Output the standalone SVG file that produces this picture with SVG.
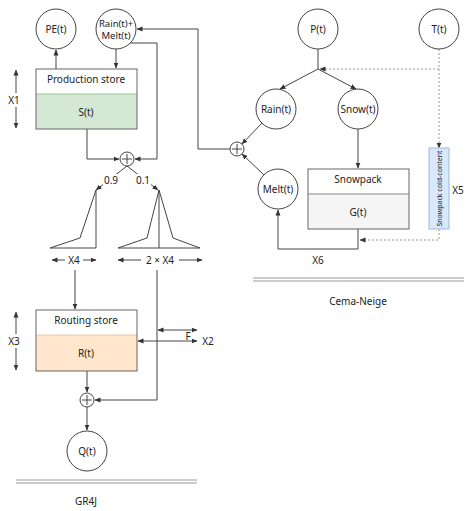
<svg xmlns="http://www.w3.org/2000/svg" width="474" height="511" viewBox="0 0 474 511">
<style>
text{font-family:"Noto Sans","Open Sans",sans-serif;font-size:10px;fill:#222;text-anchor:middle;dominant-baseline:central}
.n{fill:#fff;stroke:#444;stroke-width:1}
.c{fill:none;stroke:#444;stroke-width:1}
.a{marker-end:url(#ah)}
.d{marker-start:url(#ah);marker-end:url(#ah)}
.dot{fill:none;stroke:#999;stroke-width:1;stroke-dasharray:2 2}
.bg{fill:#fff;stroke:none}
.sep{stroke:#999;stroke-width:1.2}
</style>
<defs>
<marker id="ah" markerUnits="userSpaceOnUse" markerWidth="6" markerHeight="6" refX="5.5" refY="3" orient="auto-start-reverse">
<path d="M0,0.5 L6,3 L0,5.5 z" fill="#333"/>
</marker>
</defs>
<rect width="474" height="511" fill="#fff"/>

<g id="connectors">
<path class="c a" d="M56,69 V50"/>
<path class="c a" d="M116,49 V68"/>
<path class="c a" d="M130,43 H157 V159 H135"/>
<path class="c a" d="M87,129 V159 H119"/>
<path class="c a" d="M230,149 H198 V29 H137"/>
<path class="c" d="M318,49 V69"/>
<path class="c a" d="M318,69 L280,89"/>
<path class="c a" d="M318,69 L356,89"/>
<path class="dot a" d="M439,49 V148"/>
<path class="dot a" d="M439,69 H320"/>
<path class="c a" d="M262,123 L242,144"/>
<path class="c a" d="M264,175 L242,154"/>
<path class="c a" d="M358,129 V168"/>
<path class="c a" d="M358,229 V249 H278 V210"/>
<path class="dot a" d="M439,229 V240 H360"/>
<path class="c a" d="M127,166 L96,190"/>
<path class="c a" d="M127,166 L158,190"/>
<rect class="bg" x="103" y="174" width="16" height="12"/>
<rect class="bg" x="135" y="174" width="16" height="12"/>
<text x="111" y="180">0.9</text>
<text x="143" y="180">0.1</text>
<path class="c a" d="M75,270 V309"/>
<path class="c a" d="M157,270 V400 H95"/>
<path class="c a" d="M87,371 V392"/>
<path class="c a" d="M87,407 V430"/>
<path class="c d" d="M158,330 H197"/>
<path class="c d" d="M138,341 H197"/>
</g>

<g id="PE">
<circle class="n" cx="56" cy="29" r="20"/>
<text x="56" y="29">PE(t)</text>
</g>
<g id="RainMelt">
<circle class="n" cx="116" cy="29" r="20"/>
<text x="116" y="23" style="font-size:9.5px">Rain(t)+</text>
<text x="116" y="35.5" style="font-size:9.5px">Melt(t)</text>
</g>
<g id="production-store">
<rect x="36" y="69" width="101" height="60" fill="#fff"/>
<rect x="36" y="94" width="101" height="35" fill="#d5e8d4"/>
<line x1="36" y1="94" x2="137" y2="94" stroke="#9ec29a" stroke-width="1"/>
<rect x="36" y="69" width="101" height="60" fill="none" stroke="#666"/>
<text x="86" y="79">Production store</text>
<text x="86" y="112">S(t)</text>
</g>
<g id="X1">
<path class="c d" d="M16,70 V128"/>
<rect class="bg" x="6" y="93" width="16" height="14"/>
<text x="14" y="100">X1</text>
</g>
<g id="plus1">
<circle class="n" cx="127" cy="159" r="7"/>
<path class="c" d="M122,159 H132 M127,154 V164"/>
</g>
<g id="P">
<circle class="n" cx="318" cy="29" r="20"/>
<text x="318" y="29">P(t)</text>
</g>
<g id="T">
<circle class="n" cx="439" cy="29" r="20"/>
<text x="439" y="29">T(t)</text>
</g>
<g id="Rain">
<circle class="n" cx="276" cy="109" r="20"/>
<text x="276" y="109">Rain(t)</text>
</g>
<g id="Snow">
<circle class="n" cx="358" cy="109" r="20"/>
<text x="358" y="109">Snow(t)</text>
</g>
<g id="plus2">
<circle class="n" cx="237" cy="149" r="7"/>
<path class="c" d="M232,149 H242 M237,144 V154"/>
</g>
<g id="Melt">
<circle class="n" cx="278" cy="189" r="20"/>
<text x="278" y="189">Melt(t)</text>
</g>
<g id="snowpack">
<rect x="308" y="169" width="101" height="60" fill="#fff"/>
<rect x="308" y="194" width="101" height="35" fill="#f5f5f5"/>
<line x1="308" y1="194" x2="409" y2="194" stroke="#888"/>
<rect x="308" y="169" width="101" height="60" fill="none" stroke="#666"/>
<text x="358" y="179">Snowpack</text>
<text x="358" y="212">G(t)</text>
</g>
<g id="cold-content">
<rect x="429" y="148" width="20" height="81" fill="#dae8fc" stroke="#9fb8dc"/>
<text x="0" y="0" transform="translate(439,188.5) rotate(-90)" style="font-size:7px">Snowpack cold-content</text>
</g>
<text x="458" y="190">X5</text>
<text x="318" y="260">X6</text>
<g id="cema-sep">
<line class="sep" x1="253" y1="278" x2="464" y2="278"/>
<line class="sep" x1="253" y1="281" x2="464" y2="281"/>
</g>
<text x="358" y="301">Cema-Neige</text>

<g id="UH1">
<path class="c" d="M50,248 L80,238 L96,190 V248 H50"/>
</g>
<g id="UH2">
<path class="c" d="M118,248 L147,238 L159,190 L173,238 L200,248 Z M159,190 V248"/>
</g>
<g id="X4">
<path class="c d" d="M52,260 H96"/>
<rect class="bg" x="65" y="254" width="18" height="12"/>
<text x="74" y="260">X4</text>
</g>
<g id="X4x2">
<path class="c d" d="M118,260 H202"/>
<rect class="bg" x="141" y="254" width="38" height="12"/>
<text x="160" y="260">2 × X4</text>
</g>
<g id="routing-store">
<rect x="36" y="310" width="101" height="61" fill="#fff"/>
<rect x="36" y="335" width="101" height="36" fill="#ffe6cc"/>
<line x1="36" y1="335" x2="137" y2="335" stroke="#e6c8a6"/>
<rect x="36" y="310" width="101" height="61" fill="none" stroke="#666"/>
<text x="86" y="320">Routing store</text>
<text x="86" y="353">R(t)</text>
</g>
<g id="X3">
<path class="c d" d="M16,312 V370"/>
<rect class="bg" x="6" y="334" width="16" height="14"/>
<text x="14" y="341">X3</text>
</g>
<text x="188" y="336">F</text>
<text x="208" y="341">X2</text>
<g id="plus3">
<circle class="n" cx="87" cy="400" r="7"/>
<path class="c" d="M82,400 H92 M87,395 V405"/>
</g>
<g id="Q">
<circle class="n" cx="87" cy="451" r="20"/>
<text x="87" y="451">Q(t)</text>
</g>
<g id="gr4j-sep">
<line class="sep" x1="16" y1="480" x2="197" y2="480"/>
<line class="sep" x1="16" y1="483" x2="197" y2="483"/>
</g>
<text x="86" y="501">GR4J</text>
</svg>
